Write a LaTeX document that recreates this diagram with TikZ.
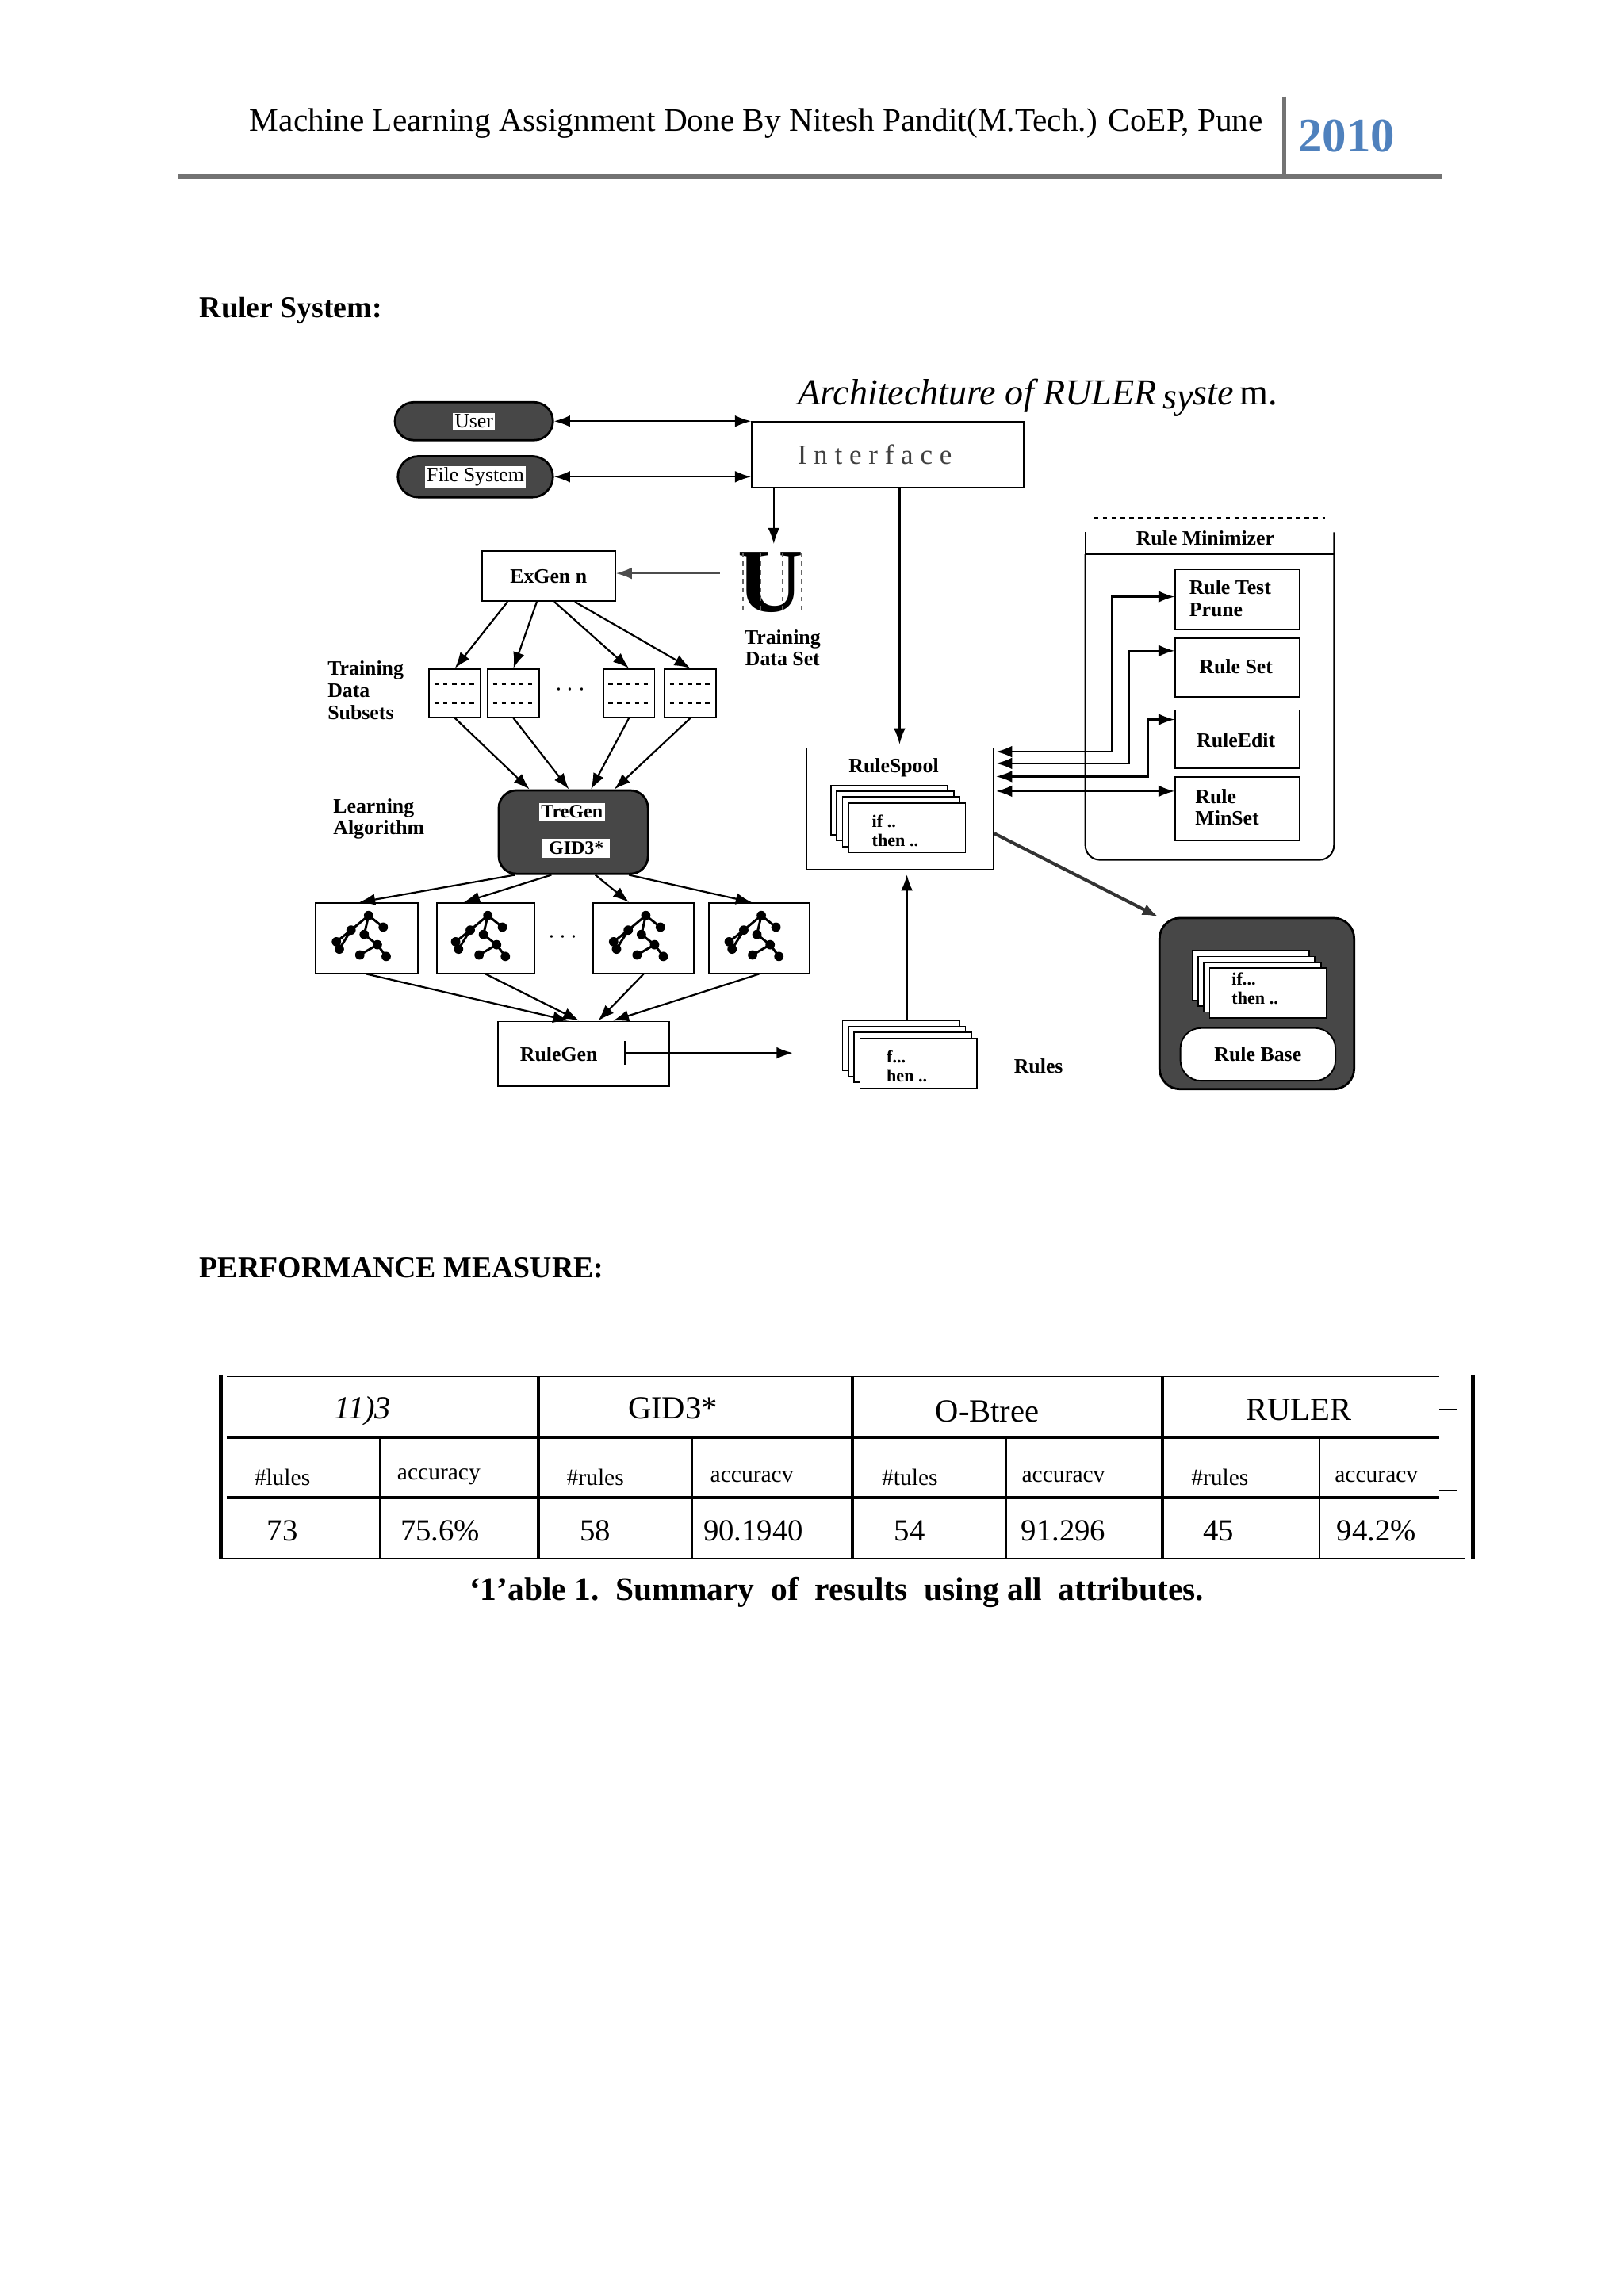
\documentclass[tikz,border=0pt]{standalone}
\usepackage{fontspec}
\setmainfont{Liberation Serif}
\usetikzlibrary{arrows.meta}
\definecolor{hdrblue}{HTML}{4F81BD}
\begin{document}
\begin{tikzpicture}[x=1pt,y=-1pt,
  box/.style={draw,line width=1pt,fill=white},
  lab/.style={font=\fontsize{14}{15}\selectfont\bfseries,align=left},
  dark/.style={draw,line width=1.5pt,fill=black!72,rounded corners=8pt},
  arr/.style={-{Latex[length=11pt,width=8pt]},line width=1.2pt},
  darr/.style={{Latex[length=11pt,width=8pt]}-{Latex[length=11pt,width=8pt]},line width=1.2pt},
  tab/.style={line width=1.2pt},
  th/.style={font=\fontsize{22}{24}\selectfont},
  ts/.style={font=\fontsize{16}{18}\selectfont},
  tv/.style={font=\fontsize{21}{23}\selectfont},
  pics/cards/.style={code={
    \draw[fill=white,line width=0.9pt] (0,0) rectangle (80,34);
    \draw[fill=white,line width=0.9pt] (4,4) rectangle (84,38);
    \draw[fill=white,line width=0.9pt] (8,8) rectangle (88,42);
    \draw[fill=white,line width=0.9pt] (12,12) rectangle (92,46);}},
  pics/tree/.style={code={
    \draw[line width=1.6pt] (0,-15)--(-12,-5)--(-22,3) (0,-15)--(10,-7) (0,-15)--(-3,-2)--(6,5)--(12,13) (6,5)--(-6,12) (-12,-5)--(-20,8);
    \foreach \p in {(0,-15),(-12,-5),(-22,3),(10,-7),(-3,-2),(6,5),(12,13),(-6,12),(-20,8)} \fill \p circle (3.2);}}
]
\useasboundingbox (0,0) rectangle (1110,1570);
% header
\node[anchor=south east,font=\fontsize{22.4}{24}\selectfont] (hdr) at (867,98) {Machine Learning Assignment Done By Nitesh Pandit(M.Tech.) CoEP, Pune};
\node[anchor=west,font=\fontsize{33}{35}\selectfont\bfseries,text=hdrblue] (yr) at (884,93) {2010};
\draw[line width=3pt,black!55] (878,66)--(878,121);
\draw[line width=3pt,black!55] (122,121)--(986,121);
\node[anchor=west,font=\fontsize{20.5}{22}\selectfont\bfseries] (rs) at (133,212) {Ruler System:};
\node[anchor=west,font=\fontsize{20.5}{22}\selectfont\bfseries] (pm) at (133,867) {PERFORMANCE MEASURE:};

% title
\node[anchor=west,font=\fontsize{25}{27}\selectfont\itshape] (title) at (542,272) {Architechture of RULER\,\raisebox{-3pt}{sy}ste\,\upshape m.};

% user / file system
\node[dark,minimum width=108pt,minimum height=26pt,rounded corners=13pt] (user) at (324,288) {};
\node[fill=white,inner sep=1pt,font=\fontsize{14}{15}\selectfont] at (user) {User};
\node[dark,minimum width=106pt,minimum height=28pt,rounded corners=14pt] (fs) at (325,326) {};
\node[fill=white,inner sep=1pt,font=\fontsize{14}{15}\selectfont] at (fs) {File System};
\node[box,minimum width=186pt,minimum height=45pt] (iface) at (607,311) {};
\node[font=\fontsize{19}{20}\selectfont,text=black!75] at (598,311) {I n t e r f a c e};
\draw[darr] (user.east) -- (iface.west |- user.east);
\draw[darr] (fs.east) -- (iface.west |- fs.east);

% training data set
\coordinate (utop) at (529,372);
\draw[arr] (529,333) -- (utop);
\node[inner sep=0pt] (U) at (527,398) {\fontsize{62}{62}\selectfont\bfseries U};
\draw[black!60,dashed,line width=0.8pt] (508,378)--(508,418) (520,378)--(520,418) (535,378)--(535,418) (548,378)--(548,418);
\node[lab,align=center] (tds) at (535,443) {Training\\Data Set};
\node[box,minimum width=91pt,minimum height=34pt] (exgen) at (375,394) {};
\node[lab] at (375,394) {ExGen n};
\draw[arr,black!70] (492,392) -- (exgen.east |- 0,392);

% subsets
\node[lab] (tdsub) at (250,472) {Training\\Data\\Subsets};
\foreach \n/\x in {s1/293,s2/333,s3/412,s4/454}{
  \node[box,minimum width=35pt,minimum height=33pt,anchor=north west] (\n) at (\x,457) {};
  \draw[dashed,line width=0.9pt] (\x+4,468)--(\x+31,468) (\x+4,481)--(\x+31,481);
}
\node[font=\fontsize{18}{18}\selectfont\bfseries] (dots1) at (390,472) {$\cdots$};
\draw[arr] (exgen.south west)++(18,0) -- (s1.north);
\draw[arr] (exgen.south west)++(38,0) -- (s2.north);
\draw[arr] (exgen.south west)++(50,0) -- (s3.north);
\draw[arr] (exgen.south west)++(64,0) -- (s4.north);

% learning algorithm
\node[lab] (la) at (259,560) {Learning\\Algorithm};
\node[dark,minimum width=102pt,minimum height=57pt,rounded corners=12pt] (alg) at (392,569) {};
\node[fill=white,inner sep=1.5pt,font=\fontsize{13}{14}\selectfont\bfseries] (treg) at (391,555) {TreGen};
\node[fill=white,inner sep=2pt,minimum width=46pt,font=\fontsize{13}{14}\selectfont\bfseries] (gid) at (394,580) {GID3*};
\draw[arr] (s1.south) -- ([xshift=-30pt]alg.north);
\draw[arr] (s2.south) -- ([xshift=-3pt]alg.north);
\draw[arr] (s3.south) -- ([xshift=12pt]alg.north);
\draw[arr] (s4.south) -- ([xshift=28pt]alg.north);

% trees
\foreach \n/\x/\w in {t1/215/70,t2/298/67,t3/405/69,t4/484/69}{
  \node[box,minimum width=\w pt,minimum height=48pt,anchor=north west] (\n) at (\x,617) {};
  \pic at (\x+\w/2+2,641) {tree};
}
\node[font=\fontsize{18}{18}\selectfont\bfseries] (dots2) at (385,641) {$\cdots$};
\draw[arr] ([xshift=-40pt]alg.south) -- ([xshift=-5pt]t1.north);
\draw[arr] ([xshift=-15pt]alg.south) -- ([xshift=-15pt]t2.north);
\draw[arr] ([xshift=15pt]alg.south) -- ([xshift=-10pt]t3.north);
\draw[arr] ([xshift=38pt]alg.south) -- ([xshift=-5pt]t4.north);

% rulegen
\node[box,minimum width=117pt,minimum height=44pt,anchor=north west] (rg) at (340,698) {};
\node[lab] at (382,721) {RuleGen};
\draw[arr] (t1.south) -- ([xshift=-10pt]rg.north);
\draw[arr] (t2.south) -- ([xshift=-3pt]rg.north);
\draw[arr] (t3.south) -- ([xshift=10pt]rg.north);
\draw[arr] (t4.south) -- ([xshift=20pt]rg.north);
\coordinate (rgo) at (427,720);
\coordinate (rin) at (542,720);
\draw[line width=1pt] (427,712)--(427,728);
\draw[arr] (rgo) -- (rin);

% rules stack
\pic at (576,698) {cards};
\node[lab,font=\fontsize{12}{13}\selectfont\bfseries] (rcard) at (620,729) {f...\\ hen ..};
\node[lab] (rules) at (710,729) {Rules};
\coordinate (rup) at (620,697);

% rulespool
\node[box,minimum width=128pt,minimum height=83pt,anchor=north west,line width=0.8pt] (spool) at (551,511) {};
\node[lab] at (611,525) {RuleSpool};
\pic at (568,537) {cards};
\node[lab,font=\fontsize{12}{13}\selectfont\bfseries] at (612,568) {if ..\\then ..};
\draw[arr] (rup) -- (620,598);
\draw[arr] (615,333) -- (615,509);

% rule minimizer
\draw[line width=1.1pt,rounded corners=10pt] (742,379) -- (742,588) -- (912,588) -- (912,364);
\draw[line width=0.9pt] (742,364)--(742,379)--(912,379);
\draw[dashed,line width=0.6pt] (748,354)--(906,354);
\node[lab] (rmin) at (824,368) {Rule Minimizer};
\node[box,minimum width=85pt,minimum height=41pt,anchor=north west] (rtp) at (803,389) {};
\node[lab] at (841,409) {Rule Test\\Prune};
\node[box,minimum width=85pt,minimum height=40pt,anchor=north west] (rset) at (803,436) {};
\node[lab] at (845,456) {Rule Set};
\node[box,minimum width=85pt,minimum height=40pt,anchor=north west] (redit) at (803,485) {};
\node[lab] at (845,506) {RuleEdit};
\node[box,minimum width=85pt,minimum height=43pt,anchor=north west] (rms) at (803,531) {};
\node[lab] at (839,552) {Rule\\MinSet};
\draw[darr] (681,514) -| (760,408) -- (rtp.west |- 0,408);
\draw[darr] (681,522) -| (772,445) -- (rset.west |- 0,445);
\draw[darr] (681,531) -| (785,492) -- (redit.west |- 0,492);
\draw[darr] (681,541) -- (rms.west |- 0,541);

% rule base
\node[dark,minimum width=133pt,minimum height=117pt,anchor=north west,rounded corners=14pt] (rb) at (792,627) {};
\pic at (815,650) {cards};
\node[lab,font=\fontsize{12}{13}\selectfont\bfseries] at (858,676) {if...\\then ..};
\node[fill=white,draw,line width=1pt,rounded corners=14pt,minimum width=106pt,minimum height=36pt,lab] (rbl) at (860,721) {Rule Base};
\draw[arr,line width=2.2pt,black!80] ([yshift=-17pt]spool.east) -- (rb.north west);

% table
\draw[line width=2.5pt] (151,940)--(151,1066) (1007,940)--(1007,1066);
\draw[tab] (155,941)--(984,941);
\draw[line width=2pt] (155,983)--(984,983) (155,1024)--(984,1024);
\draw[tab] (151,1066)--(1002,1066);
\foreach \x in {368,583,795}{ \draw[line width=2.2pt] (\x,941)--(\x,1066); }
\foreach \x in {260,473,688,902}{ \draw[tab] (\x,983)--(\x,1066); }
\draw[tab] (984,964)--(996,964) (984,1019)--(996,1019);
\node[th,font=\fontsize{22}{24}\selectfont\itshape] (h1) at (248,965) {11)3};
\node[th] (h2) at (460,963) {GID3*};
\node[th] (h3) at (675,965) {O-Btree};
\node[th] (h4) at (888,964) {RULER};
\foreach \t/\x in {{\#lules}/193,accuracy/300,{\#rules}/407,accuracv/514,{\#tules}/622,accuracv/727,{\#rules}/834,accuracv/941}{
  \node[ts] at (\x,1010) {\t};
}
\foreach \t/\x in {73/193,75.6\%/301,58/407,90.1940/515,54/622,91.296/727,45/833,94.2\%/941}{
  \node[tv] at (\x,1047) {\t};
}
\node[font=\fontsize{22.5}{24}\selectfont\bfseries] (cap) at (572,1089) {‘1’able 1.\ \ Summary\ \ of\ \ results\ \ using all\ \ attributes.};
\end{tikzpicture}
\end{document}
